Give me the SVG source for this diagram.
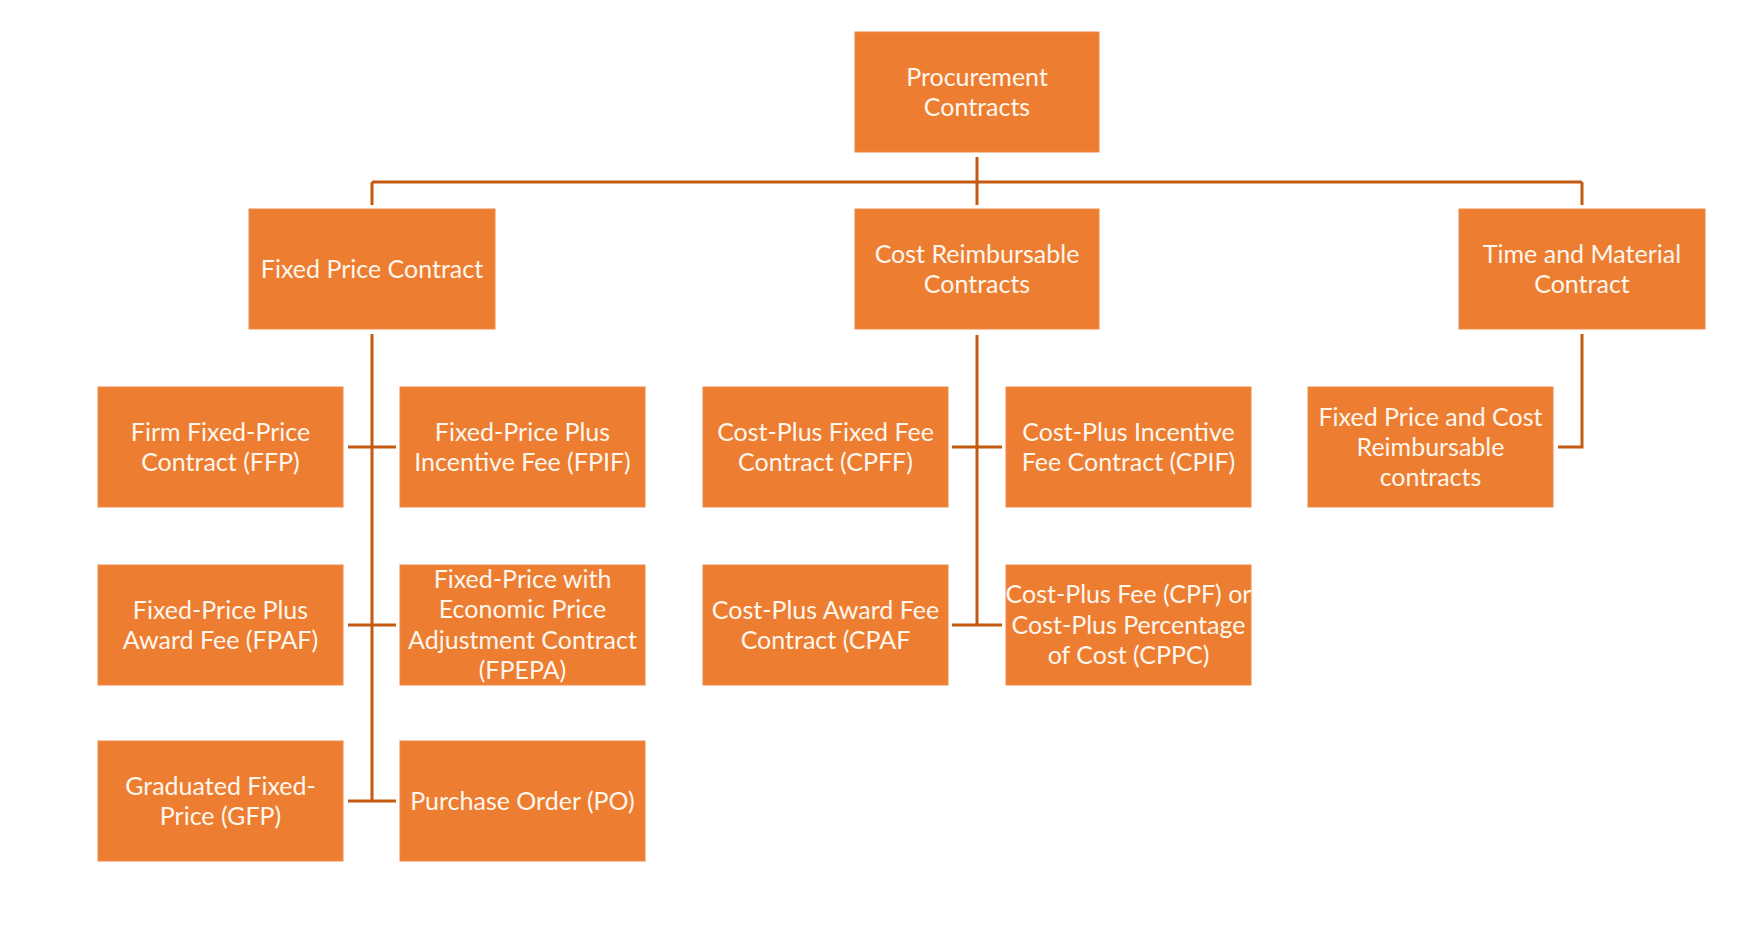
<svg xmlns="http://www.w3.org/2000/svg" width="1764" height="937" viewBox="0 0 1764 937">
<style>
.box{fill:#ED7D31;stroke:#F08A48;stroke-width:1}
.t{font-family:Lato,"Liberation Sans",sans-serif;font-size:25px;fill:#FFF7EE;text-anchor:middle;dominant-baseline:central}
.ln{stroke:#C55A11;stroke-width:3;fill:none}
</style>
<rect width="1764" height="937" fill="#FFFFFF"/>
<g id="connectors">
<path class="ln" d="M977 157V205M372 182H1582M372 182V205M1582 182V205"/>
<path class="ln" d="M372 334V801M348 447H396M348 625H396M348 801H396"/>
<path class="ln" d="M977 335V625M952 447H1002M952 625H1002"/>
<path class="ln" d="M1582 334V447H1558"/>
</g>
<g id="procurement"><rect class="box" x="855" y="32" width="244" height="120"/><text class="t" x="977" y="76">Procurement</text><text class="t" x="977" y="106">Contracts</text></g>
<g id="fixed-price"><rect class="box" x="249" y="209" width="246" height="120"/><text class="t" x="372" y="268">Fixed Price Contract</text></g>
<g id="cost-reimbursable"><rect class="box" x="855" y="209" width="244" height="120"/><text class="t" x="977" y="253">Cost Reimbursable</text><text class="t" x="977" y="283">Contracts</text></g>
<g id="time-material"><rect class="box" x="1459" y="209" width="246" height="120"/><text class="t" x="1582" y="253">Time and Material</text><text class="t" x="1582" y="283">Contract</text></g>
<g id="ffp"><rect class="box" x="98" y="387" width="245" height="120"/><text class="t" x="220.5" y="431">Firm Fixed-Price</text><text class="t" x="220.5" y="461">Contract (FFP)</text></g>
<g id="fpif"><rect class="box" x="400" y="387" width="245" height="120"/><text class="t" x="522.5" y="431">Fixed-Price Plus</text><text class="t" x="522.5" y="461">Incentive Fee (FPIF)</text></g>
<g id="fpaf"><rect class="box" x="98" y="565" width="245" height="120"/><text class="t" x="220.5" y="609">Fixed-Price Plus</text><text class="t" x="220.5" y="639">Award Fee (FPAF)</text></g>
<g id="fpepa"><rect class="box" x="400" y="565" width="245" height="120"/><text class="t" x="522.5" y="578">Fixed-Price with</text><text class="t" x="522.5" y="608">Economic Price</text><text class="t" x="522.5" y="639">Adjustment Contract</text><text class="t" x="522.5" y="669">(FPEPA)</text></g>
<g id="gfp"><rect class="box" x="98" y="741" width="245" height="120"/><text class="t" x="220.5" y="785">Graduated Fixed-</text><text class="t" x="220.5" y="815">Price (GFP)</text></g>
<g id="po"><rect class="box" x="400" y="741" width="245" height="120"/><text class="t" x="522.5" y="800">Purchase Order (PO)</text></g>
<g id="cpff"><rect class="box" x="703" y="387" width="245" height="120"/><text class="t" x="825.5" y="431">Cost-Plus Fixed Fee</text><text class="t" x="825.5" y="461">Contract (CPFF)</text></g>
<g id="cpif"><rect class="box" x="1006" y="387" width="245" height="120"/><text class="t" x="1128.5" y="431">Cost-Plus Incentive</text><text class="t" x="1128.5" y="461">Fee Contract (CPIF)</text></g>
<g id="cpaf"><rect class="box" x="703" y="565" width="245" height="120"/><text class="t" x="825.5" y="609">Cost-Plus Award Fee</text><text class="t" x="825.5" y="639">Contract (CPAF</text></g>
<g id="cppc"><rect class="box" x="1006" y="565" width="245" height="120"/><text class="t" x="1128.5" y="593">Cost-Plus Fee (CPF) or</text><text class="t" x="1128.5" y="624">Cost-Plus Percentage</text><text class="t" x="1128.5" y="654">of Cost (CPPC)</text></g>
<g id="fp-cost-reimb"><rect class="box" x="1308" y="387" width="245" height="120"/><text class="t" x="1430.5" y="416">Fixed Price and Cost</text><text class="t" x="1430.5" y="446">Reimbursable</text><text class="t" x="1430.5" y="476">contracts</text></g>
</svg>
